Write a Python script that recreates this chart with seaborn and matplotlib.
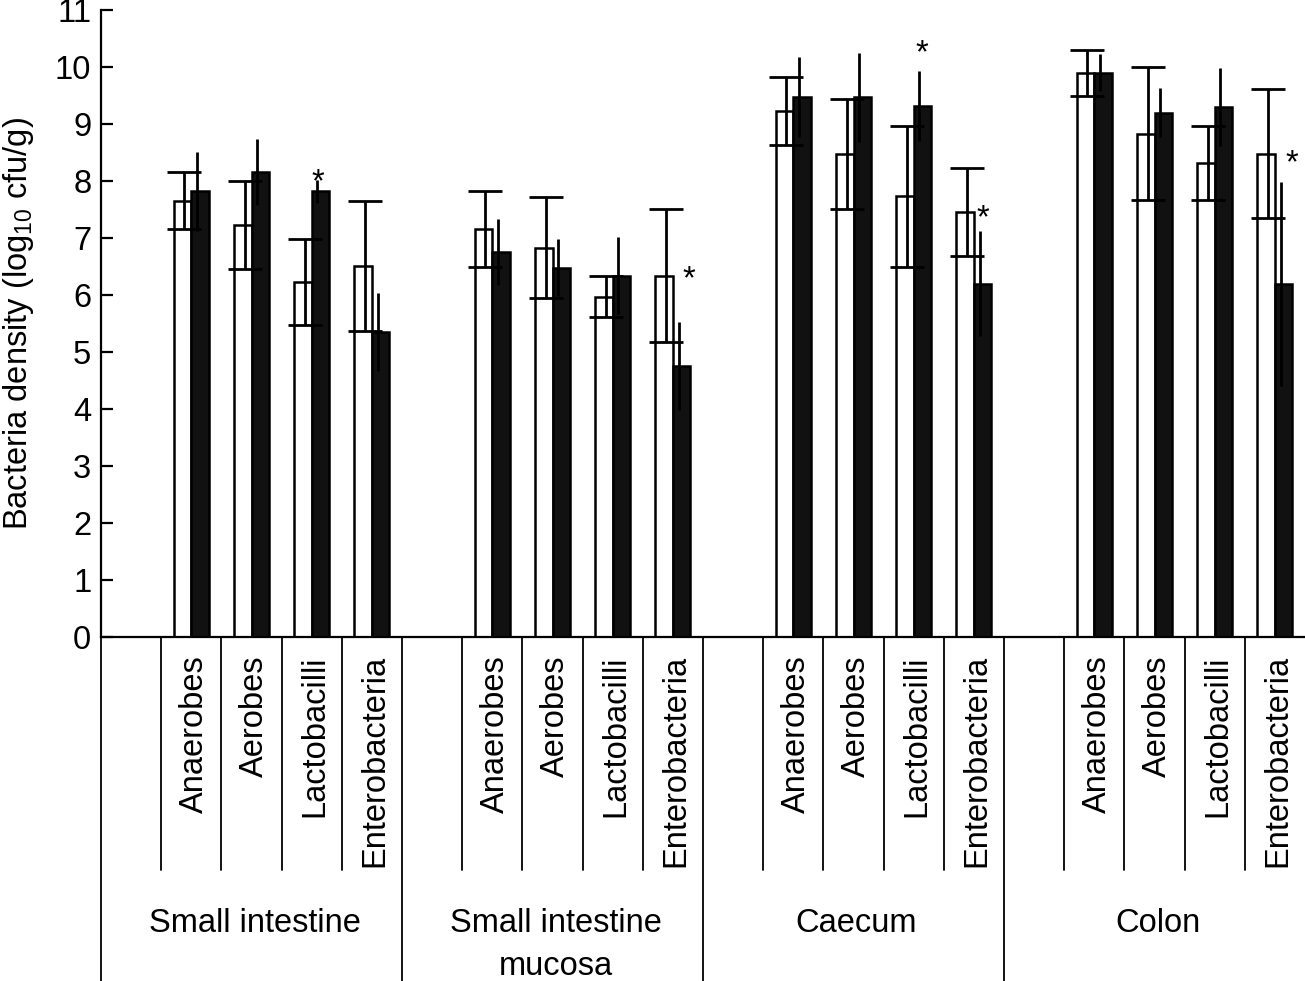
import numpy as np
import pandas as pd
import seaborn as sns
import matplotlib.pyplot as plt

# plain white style, set fonts after seaborn (it resets font.family)
sns.set_style('ticks')
plt.rcParams['font.family'] = ['Liberation Sans', 'DejaVu Sans']
plt.rcParams['mathtext.fontset'] = 'custom'
plt.rcParams['mathtext.rm'] = 'Liberation Sans'
for key in ['text.color', 'axes.labelcolor', 'xtick.color', 'ytick.color', 'axes.edgecolor']:
    plt.rcParams[key] = 'black'

sites = ['Small intestine', 'Small intestine\nmucosa', 'Caecum', 'Colon']
bacteria = ['Anaerobes', 'Aerobes', 'Lactobacilli', 'Enterobacteria']
groups = ['Control', 'Treated']

# open bars, log10 cfu/g (4 bacteria per site)
control_mean = [7.65, 7.23, 6.23, 6.51,
                7.16, 6.83, 5.97, 6.34,
                9.23, 8.47, 7.73, 7.45,
                9.89, 8.83, 8.31, 8.48]
control_sd = [0.50, 0.77, 0.75, 1.14,
              0.66, 0.89, 0.36, 1.17,
              0.59, 0.97, 1.24, 0.77,
              0.40, 1.17, 0.65, 1.13]

# filled bars
treated_mean = [7.82, 8.16, 7.82, 5.35,
                6.75, 6.48, 6.34, 4.76,
                9.47, 9.47, 9.32, 6.20,
                9.90, 9.20, 9.30, 6.20]
treated_sd = [0.69, 0.58, 0.20, 0.68,
              0.58, 0.50, 0.68, 0.77,
              0.70, 0.78, 0.61, 0.92,
              0.32, 0.43, 0.69, 1.79]

# significance marks: (site, bacteria, shift from slot centre, y of mark centre)
stars = [(0, 2, 0.10, 8.15),
         (1, 3, 0.27, 6.45),
         (2, 2, 0.14, 10.42),
         (2, 3, 0.15, 7.51),
         (3, 3, 0.28, 8.48)]

# long table: one row per bar
rows = []
for i, s in enumerate(sites):
    for j, b in enumerate(bacteria):
        k = i * 4 + j
        rows.append({'slot': s + '|' + b, 'group': 'Control', 'value': control_mean[k]})
        rows.append({'slot': s + '|' + b, 'group': 'Treated', 'value': treated_mean[k]})
df = pd.DataFrame(rows)

# every site starts with an empty slot
order = []
for s in sites:
    order += [s + '|'] + [s + '|' + b for b in bacteria]

fs = 23.5
fig = plt.figure(figsize=(13.05, 9.81), dpi=100)
ax = fig.add_axes([101 / 1305, 1 - 637 / 981, 1204 / 1305, 627 / 981])

sns.barplot(data=df, x='slot', y='value', hue='group', order=order, hue_order=groups,
            palette={'Control': 'white', 'Treated': '#111111'}, saturation=1,
            width=0.58, edgecolor='black', linewidth=1.8, errorbar=None,
            legend=False, ax=ax)

# error bars (mean +/- SD)
pos = np.array([order.index(s + '|' + b) for s in sites for b in bacteria])
bw = 0.29
ax.errorbar(pos - bw / 2 + 0.03, control_mean, yerr=control_sd, fmt='none',
            ecolor='black', elinewidth=2.0, capsize=12, capthick=2.0, zorder=3)
ax.errorbar(pos + bw / 2 - 0.05, treated_mean, yerr=treated_sd, fmt='none',
            ecolor='black', elinewidth=2.0, capsize=0, zorder=3)

for i, j, dx, y in stars:
    x = order.index(sites[i] + '|' + bacteria[j]) + dx
    ax.text(x, y - 0.33, '*', ha='center', va='baseline', fontsize=fs)

# table of category labels under the axis
trans = ax.get_xaxis_transform()
for i, s in enumerate(sites):
    x0 = i * 5 - 0.5
    ax.plot([x0, x0], [0, -0.56], color='black', lw=1.3, transform=trans, clip_on=False)
    for j, b in enumerate(bacteria):
        xs = x0 + 1 + j
        ax.plot([xs, xs], [0, -0.372], color='black', lw=1.3, transform=trans, clip_on=False)
        ax.text(xs + 0.55, -0.029, b, rotation=90, ha='center', va='top',
                fontsize=fs, transform=trans)
    ax.text(x0 + 2.55, -0.432, s, ha='center', va='top', fontsize=fs,
            linespacing=1.5, transform=trans)

ax.set_xlim(-0.5, len(order) - 0.5)
ax.set_ylim(0, 11)
ax.set_yticks(range(12))
ax.set_xticks([])
ax.set_xlabel('')
ax.set_ylabel(r'Bacteria density (log$_{10}$ cfu/g)', fontsize=fs)
ax.yaxis.set_label_coords(-0.054, 0.5)
ax.tick_params(axis='y', direction='in', length=8.6, width=1.6, pad=7, labelsize=fs)
sns.despine(ax=ax)
for sp in ['left', 'bottom']:
    ax.spines[sp].set_linewidth(1.6)

fig.savefig('out.png', dpi=100)
